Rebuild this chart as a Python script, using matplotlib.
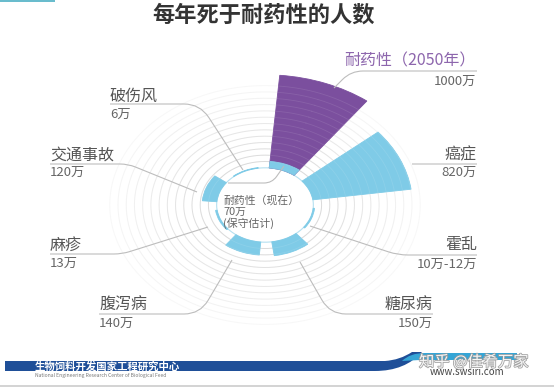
import numpy as np
import matplotlib
matplotlib.use('Agg')
import matplotlib.pyplot as plt
from matplotlib.path import Path
from matplotlib.patches import PathPatch, Rectangle
import matplotlib.patheffects as pe

plt.rcParams['font.family'] = ['Noto Sans CJK SC', 'DejaVu Sans']

# deaths per year, unit: 万
categories = ['耐药性（2050年）', '癌症', '霍乱', '糖尿病', '腹泻病', '麻疹', '交通事故', '破伤风']
deaths = [1000, 820, 11, 150, 140, 13, 120, 6]
value_labels = ['1000万', '820万', '10万-12万', '150万', '140万', '13万', '120万', '6万']
current_amr = 70  # 耐药性（现在）, 保守估计
current_text = ['耐药性（现在）', '70万', '(保守估计)']

PURPLE = '#7b4f9e'
BLUE = '#7fcbe7'
GREY_TXT = '#555555'
LINE = '#bdbdbd'

W, H = 554, 388
fig = plt.figure(figsize=(W / 100, H / 100), dpi=100)
fig.patch.set_facecolor('white')


def fx(x, y):
    # pixel position (from top-left) -> figure fraction
    return x / W, 1 - y / H


# polar chart, stretched horizontally like the original graphic
cx, cy = 265, 205
r_in = 400          # hole radius in data units
r_max = 1500
ry = 139.5          # px for r_max (vertical)
rx = ry * 1.3
ax = fig.add_axes([(cx - rx) / W, (H - cy - ry) / H, 2 * rx / W, 2 * ry / H],
                  projection='polar')
ax.set_aspect('auto')
ax.set_theta_offset(np.deg2rad(69))
ax.set_theta_direction(-1)
ax.set_ylim(0, r_max)
ax.set_axis_off()
ax.patch.set_alpha(0)

theta = np.arange(len(categories)) * 2 * np.pi / len(categories)
colors = [PURPLE] + [BLUE] * (len(categories) - 1)
width = np.deg2rad(32)

tt = np.linspace(0, 2 * np.pi, 400)
# background rings
for i in range(1, 14):
    ax.plot(tt, np.full_like(tt, r_in + 68 * i), color='#d2d2d2', lw=0.7,
            alpha=max(0.95 - 0.06 * i, 0.15), zorder=1)

ax.bar(theta, deaths, width=width, bottom=r_in, color=colors,
       edgecolor=colors, linewidth=0.6, zorder=3)
ax.bar(theta[0], current_amr, width=width, bottom=r_in, color=BLUE,
       edgecolor=BLUE, linewidth=0.6, zorder=4)

# faint rings showing through the bars
for i in range(1, 14):
    ax.plot(tt, np.full_like(tt, r_in + 68 * i), color='white', lw=0.6,
            alpha=0.1, zorder=5)
ax.plot(tt, np.full_like(tt, r_in), color='#b5e0f0', lw=0.8, zorder=2)


def leader(p0, pc, p1, rad):
    p0, pc, p1 = np.array(p0, float), np.array(pc, float), np.array(p1, float)
    a = pc + (p0 - pc) * rad / np.linalg.norm(p0 - pc)
    b = pc + (p1 - pc) * rad / np.linalg.norm(p1 - pc)
    verts = [fx(*p0), fx(*a), fx(*pc), fx(*b), fx(*p1)]
    codes = [Path.MOVETO, Path.LINETO, Path.CURVE3, Path.CURVE3, Path.LINETO]
    fig.add_artist(PathPatch(Path(verts, codes), transform=fig.transFigure,
                             fill=False, edgecolor=LINE, lw=0.8, zorder=6))


# label positions: (x, y of name, y of value, ha), leader path
labels_pos = [
    (476, 61, 81, 'right'),
    (477, 155, 172, 'right'),
    (477, 245, 264, 'right'),
    (433, 304, 323, 'right'),
    (99, 304, 323, 'left'),
    (50, 245, 263, 'left'),
    (50, 155, 172, 'left'),
    (110, 96, 114, 'left'),
]
leaders = [
    ((334, 88), (351, 71), (477, 71), 12),
    ((412, 164), (440, 164), (477, 164), 1),
    ((310, 226), (398, 255), (477, 255), 10),
    ((300, 262), (330, 314), (433, 314), 16),
    ((232, 260), (200, 314), (99, 314), 16),
    ((208, 227), (122, 254), (50, 254), 8),
    ((197, 192), (128, 164), (50, 164), 8),
    ((243, 170), (200, 104), (110, 104), 16),
]
for p in leaders:
    leader(*p)

for i, (x, yn, yv, ha) in enumerate(labels_pos):
    c = '#8d66ad' if i == 0 else GREY_TXT
    fig.text(*fx(x, yn), categories[i], ha=ha, va='center', fontsize=11.5,
             color=c)
    fig.text(*fx(x, yv), value_labels[i], ha=ha, va='center', fontsize=9.5,
             color='#666666')

# current resistance note inside the hole
leader((284, 166), (272, 183), (228, 183), 8)
for s, y in zip(current_text, [200, 212, 223]):
    fig.text(*fx(223, y), s, ha='left', va='center', fontsize=7.8,
             color='#666666')

fig.text(*fx(264, 15), '每年死于耐药性的人数', ha='center', va='center',
         fontsize=16, fontweight='bold', color='#333333')

# header / footer decoration
fig.add_artist(Rectangle(fx(0, 2), 55 / W, 2 / H, transform=fig.transFigure,
                         color='#69bccd', lw=0))
dark = Path([fx(5, 361), fx(385, 361), fx(400, 360), fx(412, 352),
             fx(422, 352), fx(405, 371), fx(375, 371), fx(5, 371), fx(5, 361)],
            [Path.MOVETO, Path.LINETO, Path.CURVE3, Path.CURVE3, Path.LINETO,
             Path.CURVE3, Path.CURVE3, Path.LINETO, Path.CLOSEPOLY])
fig.add_artist(PathPatch(dark, transform=fig.transFigure, color='#1f4f98',
                         lw=0))
light = Path([fx(402, 361), fx(410, 353), fx(425, 353), fx(517, 353),
              fx(517, 360), fx(420, 360), fx(402, 361)],
             [Path.MOVETO, Path.CURVE3, Path.CURVE3, Path.LINETO,
              Path.LINETO, Path.LINETO, Path.CLOSEPOLY])
fig.add_artist(PathPatch(light, transform=fig.transFigure, color='#35a5d6',
                         lw=0))
fig.text(*fx(35, 366), '生物饲料开发国家工程研究中心', ha='left', va='center',
         fontsize=7.5, fontweight='bold', color='white')
fig.text(*fx(35, 376), 'National Engineering Research Center of Biological Feed',
         ha='left', va='center', fontsize=3.6, color='#777777')
fig.text(*fx(430, 372), 'www.swsiri.com', ha='left', va='center',
         fontsize=7, color='#444444')
fig.text(*fx(419, 362), '知乎 @佳肴万家', ha='left', va='center', fontsize=11,
         color='white', alpha=0.9,
         path_effects=[pe.withStroke(linewidth=1.2, foreground='#9a9a9a')])
fig.add_artist(plt.Line2D([0, 1], [1 - 386 / H] * 2, transform=fig.transFigure,
                          color='#cccccc', lw=1.2))

fig.savefig('out.png', dpi=100)
